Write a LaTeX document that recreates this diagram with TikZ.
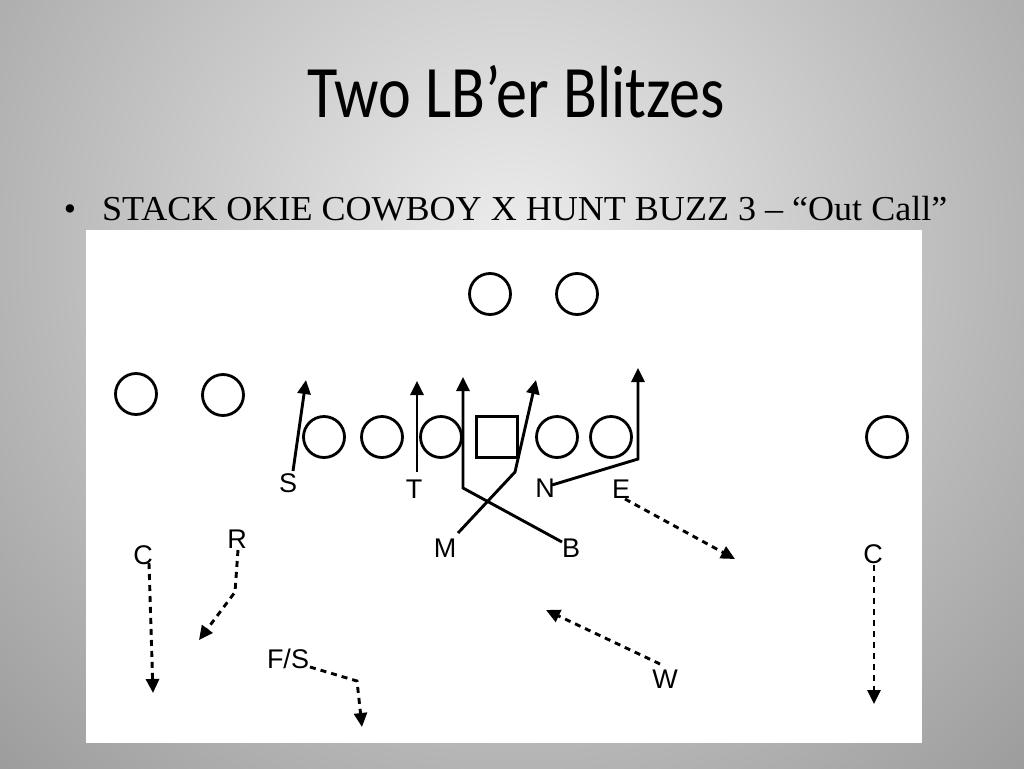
\documentclass[tikz,border=0pt]{standalone}
\usepackage{fontspec, tkz-euclide}
\usetikzlibrary{arrows.meta}
\newfontfamily\titlefont{Carlito}
\newfontfamily\bulletfont{Liberation Serif}
\newfontfamily\labelfont{Liberation Sans}
\definecolor{bgin}{gray}{0.93}
\definecolor{bgout}{gray}{0.60}
\tikzset{>={Triangle[length=14pt,width=13pt]}}
\tikzset{player/.style={circle, draw, line width=2.8pt, minimum size=41pt, inner sep=0pt},
  snapper/.style={rectangle, draw, line width=2.8pt, minimum size=41pt, inner sep=0pt},
  lbl/.style={font=\labelfont\fontsize{27}{27}\selectfont, inner sep=0pt},
  route/.style={line width=2.9pt, ->},
  zone/.style={route, dash pattern=on 6pt off 5pt}}

\begin{document}
\begin{tikzpicture}[x=1pt, y=-1pt]
\useasboundingbox (0,0) rectangle (1024,768);
\begin{scope}
\clip (0,0) rectangle (1024,768);
\shade[inner color=bgin, outer color=bgout] (512,250) circle (760);
\end{scope}
\node[anchor=base] (title) at (516,117)
  {\scalebox{0.84}[1]{\titlefont\fontsize{74}{74}\selectfont Two LB’er Blitzes}};
\node[anchor=base] (dot) at (70,220) {\bulletfont\fontsize{35}{35}\selectfont •};
\node[anchor=base west, inner sep=0pt] (bullet) at (102,220)
  {\scalebox{1.03}[1]{\bulletfont\fontsize{35}{35}\selectfont STACK OKIE COWBOY X HUNT BUZZ 3 – “Out Call”}};
\fill[white] (86,230) rectangle (922,743);
% offense
\node[player] (q1) at (490,294) {};
\node[player] (q2) at (577,294) {};
\node[player] (w1) at (136,394) {};
\node[player] (w2) at (223,395) {};
\node[player] (l1) at (324,437) {};
\node[player] (l2) at (382,437) {};
\node[player] (l3) at (441,437) {};
\node[snapper] (ctr) at (497,437) {};
\node[player] (l4) at (557,437) {};
\node[player] (l5) at (611,437) {};
\node[player] (w3) at (887,437) {};
% defense
\node[lbl] (S) at (288,483) {S};
\node[lbl] (T) at (414,489) {T};
\node[lbl] (N) at (545,488) {N};
\node[lbl] (E) at (621,489) {E};
\node[lbl] (M) at (445,548) {M};
\node[lbl] (B) at (571,548) {B};
\node[lbl] (CL) at (143,555) {C};
\node[lbl] (R) at (237,539) {R};
\node[lbl] (FS) at (288,659) {F/S};
\node[lbl] (W) at (665,679) {W};
\node[lbl] (CR) at (873,554) {C};
\tkzDefPoints{293/471/s0, 306/380/s1, 417/472/t0, 417/381/t1,
  458/533/m0, 515/472/m1, 536/380/m2, 562/542/b0, 463/488/b1, 463/377/b2,
  552/485/n0, 638/459/n1, 638/368/n2, 625/499/e0, 735/559/e1,
  874/565/cr0, 874/704/cr1, 660/664/w0, 546/610/w1, 149/563/cl0, 153/693/cl1,
  238/550/r0, 235/592/r1, 199/640/r2, 310/667/f0, 357/681/f1, 362/727/f2}
% blitz and rush
\draw[route] (s0) -- (s1);
\draw[route] (t0) -- (t1);
\draw[route] (m0) -- (m1) -- (m2);
\draw[route] (b0) -- (b1) -- (b2);
\draw[route] (n0) -- (n1) -- (n2);
% coverage
\draw[zone] (e0) -- (e1);
\draw[zone] (cr0) -- (cr1);
\draw[zone] (w0) -- (w1);
\draw[zone] (cl0) -- (cl1);
\draw[zone] (r0) -- (r1) -- (r2);
\draw[zone] (f0) -- (f1) -- (f2);
\end{tikzpicture}
\end{document}
